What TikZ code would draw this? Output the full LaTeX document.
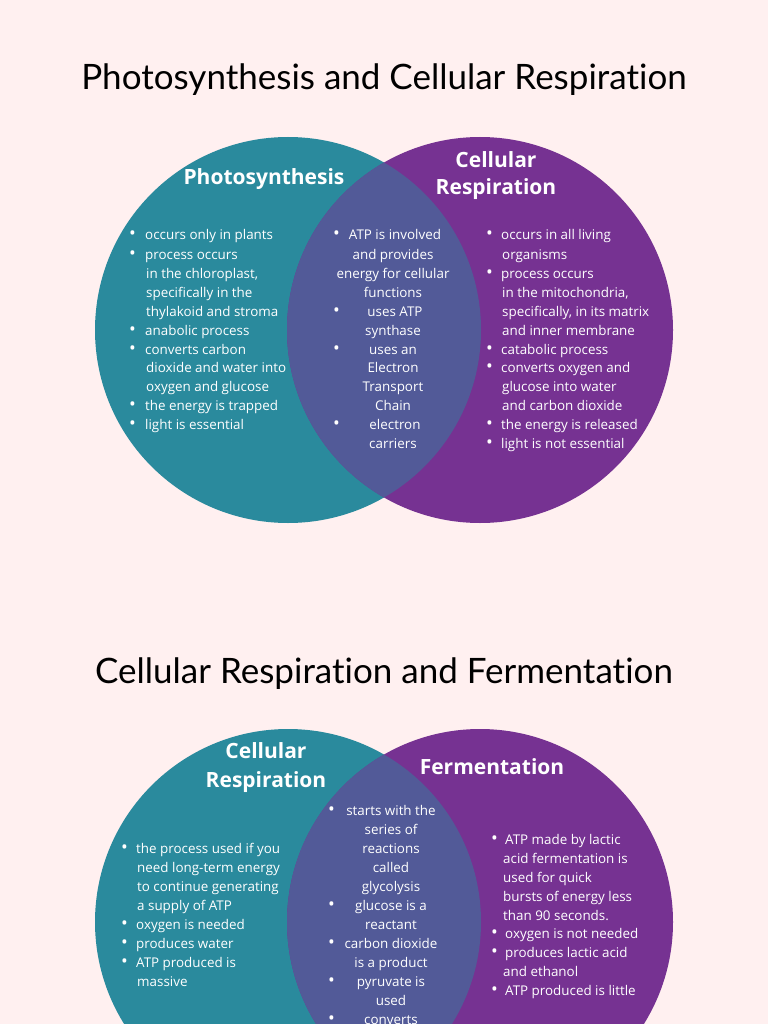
\documentclass[tikz,border=0pt]{standalone}
\usepackage{fontspec}
\setmainfont{Open Sans}
\newfontfamily\titlefont[Ligatures={NoCommon,NoRare,NoDiscretionary}]{Lato}
\begin{document}
\begin{tikzpicture}[x=1pt,y=-1pt,
  tx/.style={anchor=base west,yshift=-5pt,text=white,font=\fontsize{13.4}{15}\selectfont,inner sep=0pt},
  bu/.style={anchor=base west,yshift=-5pt,text=white,font=\fontsize{18}{15}\selectfont,inner sep=0pt},
  cx/.style={anchor=base,yshift=-5pt,text=white,font=\fontsize{13.4}{15}\selectfont,inner sep=0pt},
  hd/.style={anchor=center,text=white,font=\fontsize{21}{22}\selectfont\bfseries,inner sep=0pt},
  ti/.style={anchor=center,text=black,font=\titlefont\fontsize{35}{38}\selectfont,inner sep=0pt}]
\definecolor{bg}{RGB}{255,240,240}
\definecolor{teal}{RGB}{42,138,157}
\definecolor{purp}{RGB}{118,50,146}
\definecolor{mid}{RGB}{82,90,152}
\fill[bg] (0,0) rectangle (768,1024);
\useasboundingbox (0,0) rectangle (768,1024);
\begin{scope}
\clip (0,0) rectangle (768,1024);
\foreach \cy in {330,922}{
  \fill[teal] (288,\cy) circle (193);
  \fill[purp] (480,\cy) circle (193);
  \begin{scope}\clip (288,\cy) circle (193); \fill[mid] (480,\cy) circle (193);\end{scope}
}
\end{scope}
\node[ti] (t1) at (384,80) {Photosynthesis and Cellular Respiration};
\node[ti] (t2) at (384,674) {Cellular Respiration and Fermentation};
\node[hd] at (264,179) {Photosynthesis};
\node[hd] at (496,160) {Cellular};
\node[hd] at (496,189) {Respiration};
\node[hd] at (266,751) {Cellular};
\node[hd] at (266,782) {Respiration};
\node[hd] at (492,767) {Fermentation};
% top left
\foreach \y/\t in {235/occurs only in plants,254/process occurs,330/anabolic process,349/converts carbon,405/the energy is trapped,424/light is essential}
  {\node[bu] at (129,\y) {•}; \node[tx] at (145,\y) {\t};}
\foreach \y/\t in {273/in the chloroplast{,},292/specifically in the,311/thylakoid and stroma,367/dioxide and water into,386/oxygen and glucose}
  {\node[tx] at (146,\y) {\t};}
% top center
\foreach \y in {235,311,349,424} {\node[bu] at (333,\y) {•};}
\foreach \y/\t in {254/and provides,273/energy for cellular,292/functions,330/synthase,367/Electron,386/Transport,405/Chain,443/carriers}
  {\node[cx] at (393,\y) {\t};}
\node[cx] at (395,235) {ATP is involved};
\node[cx] at (395,311) {uses ATP};
\node[cx] at (393,349) {uses an};
\node[cx] at (395,424) {electron};
% top right
\foreach \y/\t in {235/occurs in all living,273/process occurs,349/catabolic process,367/converts oxygen and,424/the energy is released,443/light is not essential}
  {\node[bu] at (486,\y) {•}; \node[tx] at (501,\y) {\t};}
\foreach \y/\t in {254/organisms,292/in the mitochondria{,},311/specifically{,} in its matrix,330/and inner membrane,386/glucose into water,405/and carbon dioxide}
  {\node[tx] at (502,\y) {\t};}
% bottom left
\foreach \y/\t in {848/the process used if you,924/oxygen is needed,943/produces water,962/ATP produced is}
  {\node[bu] at (121,\y) {•}; \node[tx] at (136,\y) {\t};}
\foreach \y/\t in {867/need long-term energy,886/to continue generating,905/a supply of ATP,981/massive}
  {\node[tx] at (137,\y) {\t};}
% bottom center
\foreach \y in {810,905,943,981,1019} {\node[bu] at (328,\y) {•};}
\foreach \y/\t in {829/series of,848/reactions,867/called,886/glycolysis,924/reactant,962/is a product,1000/used}
  {\node[cx] at (391,\y) {\t};}
\node[cx] at (391,810) {starts with the};
\node[cx] at (391,905) {glucose is a};
\node[cx] at (391,943) {carbon dioxide};
\node[cx] at (391,981) {pyruvate is};
\node[cx] at (391,1019) {converts};
% bottom right
\foreach \y/\t in {839/ATP made by lactic,933/oxygen is not needed,952/produces lactic acid,990/ATP produced is little}
  {\node[bu] at (491,\y) {•}; \node[tx] at (505,\y) {\t};}
\foreach \y/\t in {858/acid fermentation is,877/used for quick,896/bursts of energy less,915/than 90 seconds.,971/and ethanol}
  {\node[tx] at (503,\y) {\t};}
\end{tikzpicture}
\end{document}
